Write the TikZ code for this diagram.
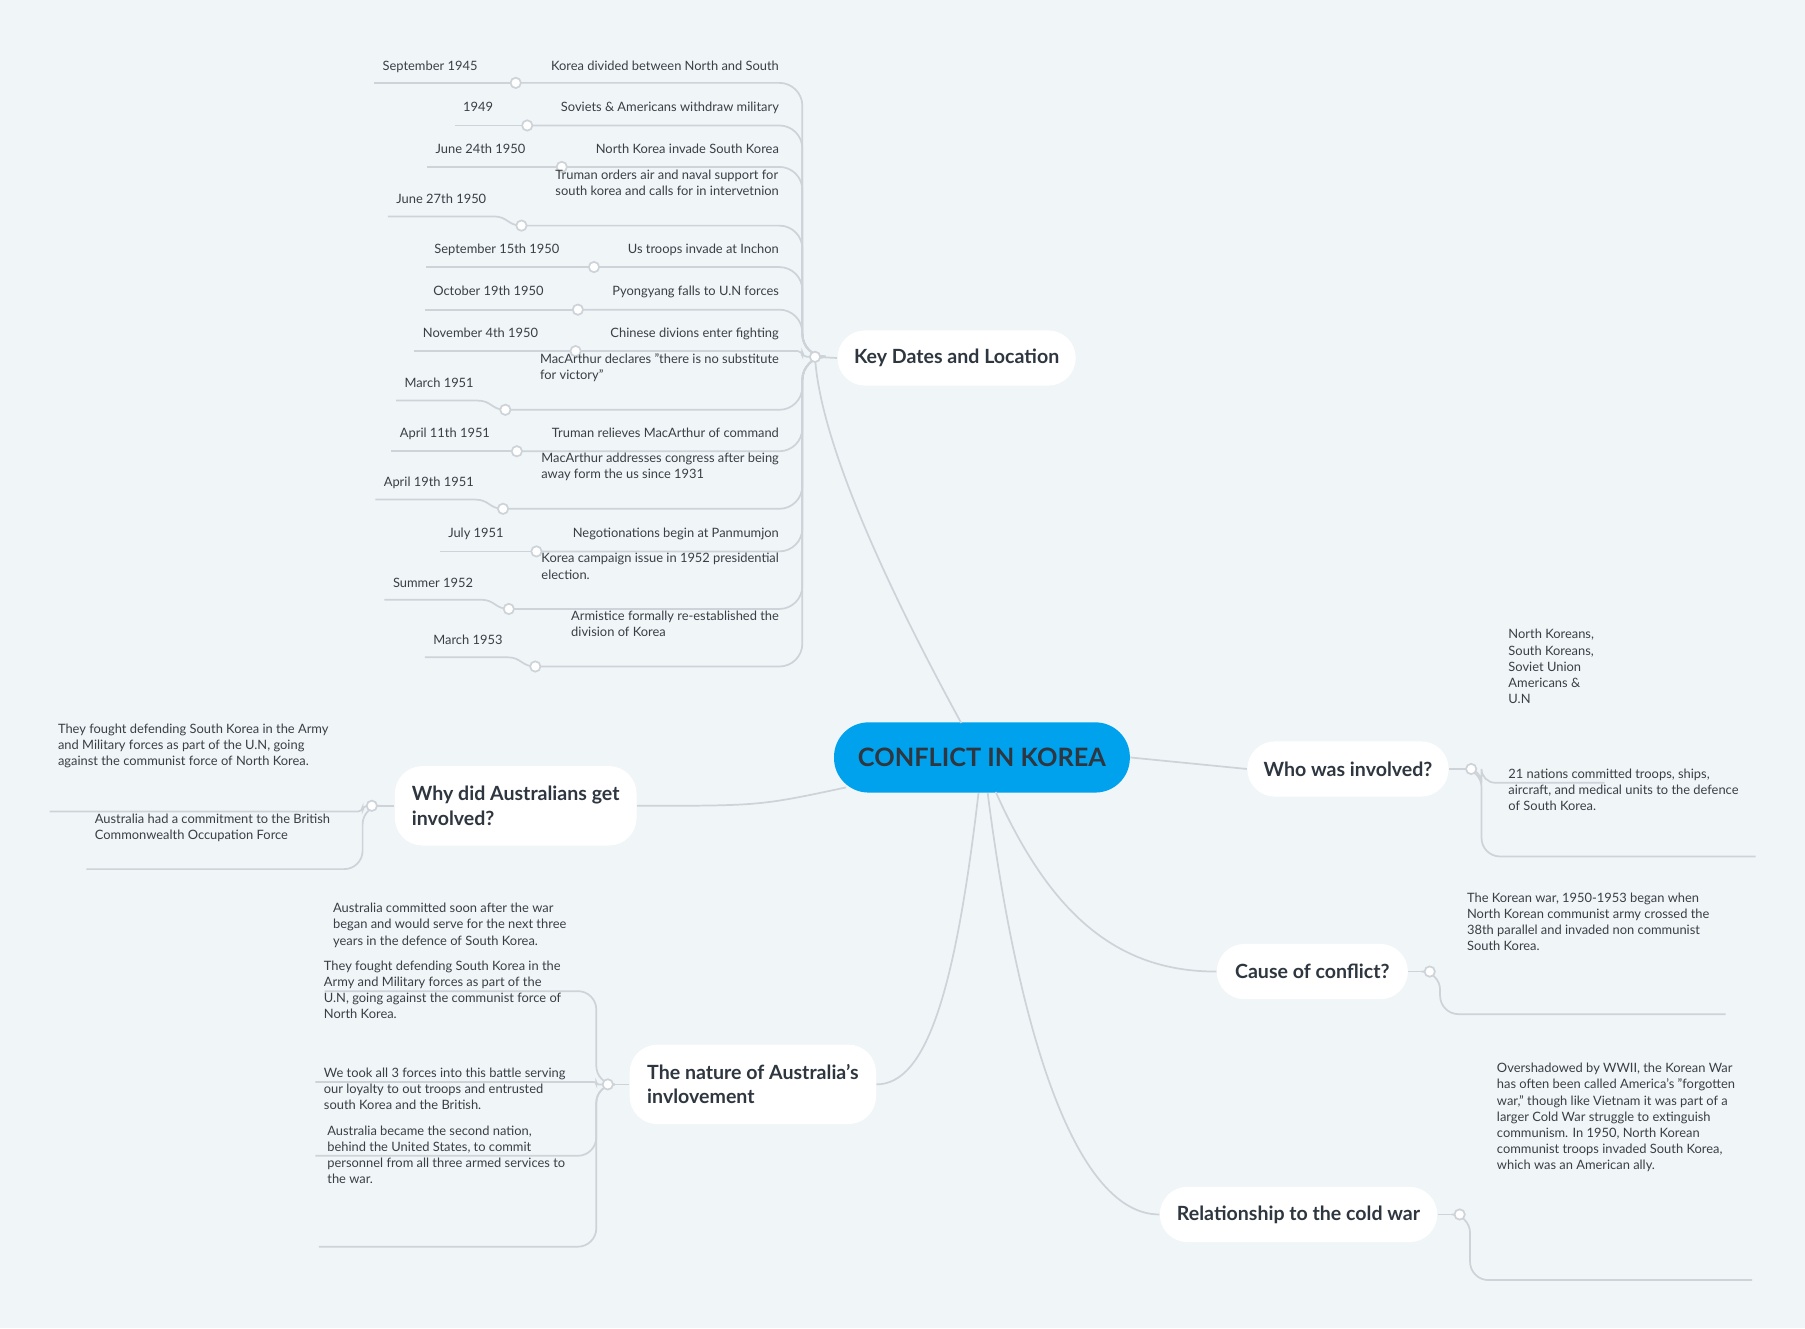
\documentclass[tikz,border=0pt]{standalone}
\usepackage{fontspec}
\setmainfont{Lato}
\begin{document}
\definecolor{bg}{HTML}{F0F5F8}
\definecolor{ln}{HTML}{CDD3D8}
\definecolor{tx}{HTML}{3A3F46}
\definecolor{hd}{HTML}{2E3640}
\definecolor{blu}{HTML}{00A2EE}
\begin{tikzpicture}[x=0.5pt,y=-0.5pt,
  ln/.style={draw=ln,line width=0.75pt},
  dot/.style={circle,draw=ln,fill=white,line width=0.75pt,inner sep=0pt,minimum size=4.5pt},
  sm/.style={inner sep=0pt,align=left,text=tx,font=\fontsize{5.6}{7}\selectfont},
  br/.style={fill=white,rounded corners=12pt,minimum height=24pt,inner xsep=7pt,align=left,text=hd,font=\fontsize{8.5}{10.5}\selectfont\bfseries}]
\fill[bg] (0,0) rectangle (1568,1154);
\useasboundingbox (0,0) rectangle (1568,1154);
% center and branches
\node[fill=blu,rounded corners=15pt,minimum width=128.5pt,minimum height=30.5pt,text=hd,font=\fontsize{11}{13}\selectfont\bfseries] (c) at (853,658) {CONFLICT IN KOREA};
\node[br,minimum width=103.5pt] (kd) at (831,311) {Key Dates and Location};
\node[br,minimum width=87.5pt] (who) at (1171,668) {Who was involved?};
\node[br,minimum width=83pt] (cause) at (1140,844) {Cause of conflict?};
\node[br,minimum width=120.5pt] (rel) at (1128,1055) {Relationship to the cold war};
\node[br,minimum width=107pt,minimum height=34.5pt] (nat) at (654,942) {The nature of Australia's\\invlovement};
\node[br,minimum width=105pt,minimum height=34.5pt] (why) at (448,700) {Why did Australians get\\involved?};
\coordinate (hub) at (708,310);
\coordinate (hw) at (1278,668);
\coordinate (hc) at (1242,844);
\coordinate (hr) at (1268,1055);
\coordinate (hn) at (528,942);
\coordinate (hy) at (323,700);
\draw[ln] (835,628) .. controls (765,500) and (712,380) .. (hub);
\draw[ln] (kd.west) -- (hub);
\draw[ln] (c.east) -- (who.west);
\draw[ln] (who.east) -- (hw);
\draw[ln] (865,688) .. controls (915,800) and (975,844) .. (cause.west);
\draw[ln] (cause.east) -- (hc);
\draw[ln] (858,689) .. controls (885,900) and (935,1055) .. (rel.west);
\draw[ln] (rel.east) -- (hr);
\draw[ln] (850,689) .. controls (830,860) and (805,942) .. (nat.east);
\draw[ln] (nat.west) -- (hn);
\draw[ln] (735,684) .. controls (660,700) .. (why.east);
\draw[ln] (why.west) -- (hy);
% key dates macro
\newcommand\kdi[9]{%
 \draw[ln,rounded corners=#9] (hub) -- (697,310) -- (697,#3) -- (#4,#3);
 \draw[ln] (#4,#3) .. controls (#4-12,#3) and (#4-12,#7) .. (#4-24,#7) -- (#8,#7);
 \node[sm,anchor=base east] at (677,#2+4) {#1};
 \node[sm,anchor=base west] at (#8+7,#6+4) {#5};
 \node[dot] at (#4,#3) {};}
\kdi{Korea divided between North and South}{57}{72}{448}{September 1945}{57}{72}{325}{10}
\kdi{Soviets \& Americans withdraw military}{93}{109}{458}{1949}{93}{109}{395}{10}
\kdi{North Korea invade South Korea}{129}{145}{488}{June 24th 1950}{129}{145}{371}{10}
\kdi{Truman orders air and naval support for\\south korea and calls for in intervetnion}{166}{196}{453}{June 27th 1950}{173}{188}{337}{10}
\kdi{Us troops invade at Inchon}{216}{232}{516}{September 15th 1950}{216}{232}{370}{10}
\kdi{Pyongyang falls to U.N forces}{253}{269}{502}{October 19th 1950}{253}{269}{369}{10}
\kdi{Chinese divions enter fighting}{289}{305}{500}{November 4th 1950}{289}{305}{360}{2}
\kdi{MacArthur declares "there is no substitute\\for victory"}{326}{356}{439}{March 1951}{333}{348}{344}{10}
\kdi{Truman relieves MacArthur of command}{376}{392}{449}{April 11th 1951}{376}{392}{340}{10}
\kdi{MacArthur addresses congress after being\\away form the us since 1931}{412}{442}{437}{April 19th 1951}{419}{434}{326}{10}
\kdi{Negotionations begin at Panmumjon}{463}{479}{466}{July 1951}{463}{479}{382}{10}
\kdi{Korea campaign issue in 1952 presidential\\election.}{499}{529}{442}{Summer 1952}{506}{521}{334}{10}
\kdi{Armistice formally re-established the\\division of Korea}{549}{579}{465}{March 1953}{556}{571}{369}{10}
\node[dot] at (hub) {};
% side items: hub, dx, text x, first y, line y, line end, text, radius
\newcommand\si[8]{%
 \draw[ln,rounded corners=#8] (#1) -- ++(#2,0) |- (#6,#5);
 \node[sm,anchor=base west] at (#3,#4+4) {#7};}
\si{hw}{9}{1310}{607}{680}{1394}{North Koreans,\\South Koreans,\\Soviet Union\\Americans \&\\U.N}{6}
\si{hw}{9}{1310}{700}{744}{1525}{21 nations committed troops, ships,\\aircraft, and medical units to the defence\\of South Korea.}{8}
\si{hc}{9}{1274}{822}{881}{1499}{The Korean war, 1950-1953 began when\\North Korean communist army crossed the\\38th parallel and invaded non communist\\South Korea.}{8}
\si{hr}{9}{1300}{1012}{1112}{1522}{Overshadowed by WWII, the Korean War\\has often been called America's "forgotten\\war," though like Vietnam it was part of a\\larger Cold War struggle to extinguish\\communism. In 1950, North Korean\\communist troops invaded South Korea,\\which was an American ally.}{8}
\si{hy}{-8}{50}{661}{705}{43}{They fought defending South Korea in the Army\\and Military forces as part of the U.N, going\\against the communist force of North Korea.}{2}
\si{hy}{-8}{82}{725}{755}{75}{Australia had a commitment to the British\\Commonwealth Occupation Force}{8}
\si{hn}{-10}{289}{817}{861}{282}{Australia committed soon after the war\\began and would serve for the next three\\years in the defence of South Korea.}{8}
\si{hn}{-10}{281}{881}{940}{274}{They fought defending South Korea in the\\Army and Military forces as part of the\\U.N, going against the communist force of\\North Korea.}{1}
\si{hn}{-10}{281}{960}{1004}{274}{We took all 3 forces into this battle serving\\our loyalty to out troops and entrusted\\south Korea and the British.}{8}
\si{hn}{-10}{284}{1024}{1083}{277}{Australia became the second nation,\\behind the United States, to commit\\personnel from all three armed services to\\the war.}{8}
\foreach \h in {hw,hc,hr,hn,hy} \node[dot] at (\h) {};
\end{tikzpicture}
\end{document}
